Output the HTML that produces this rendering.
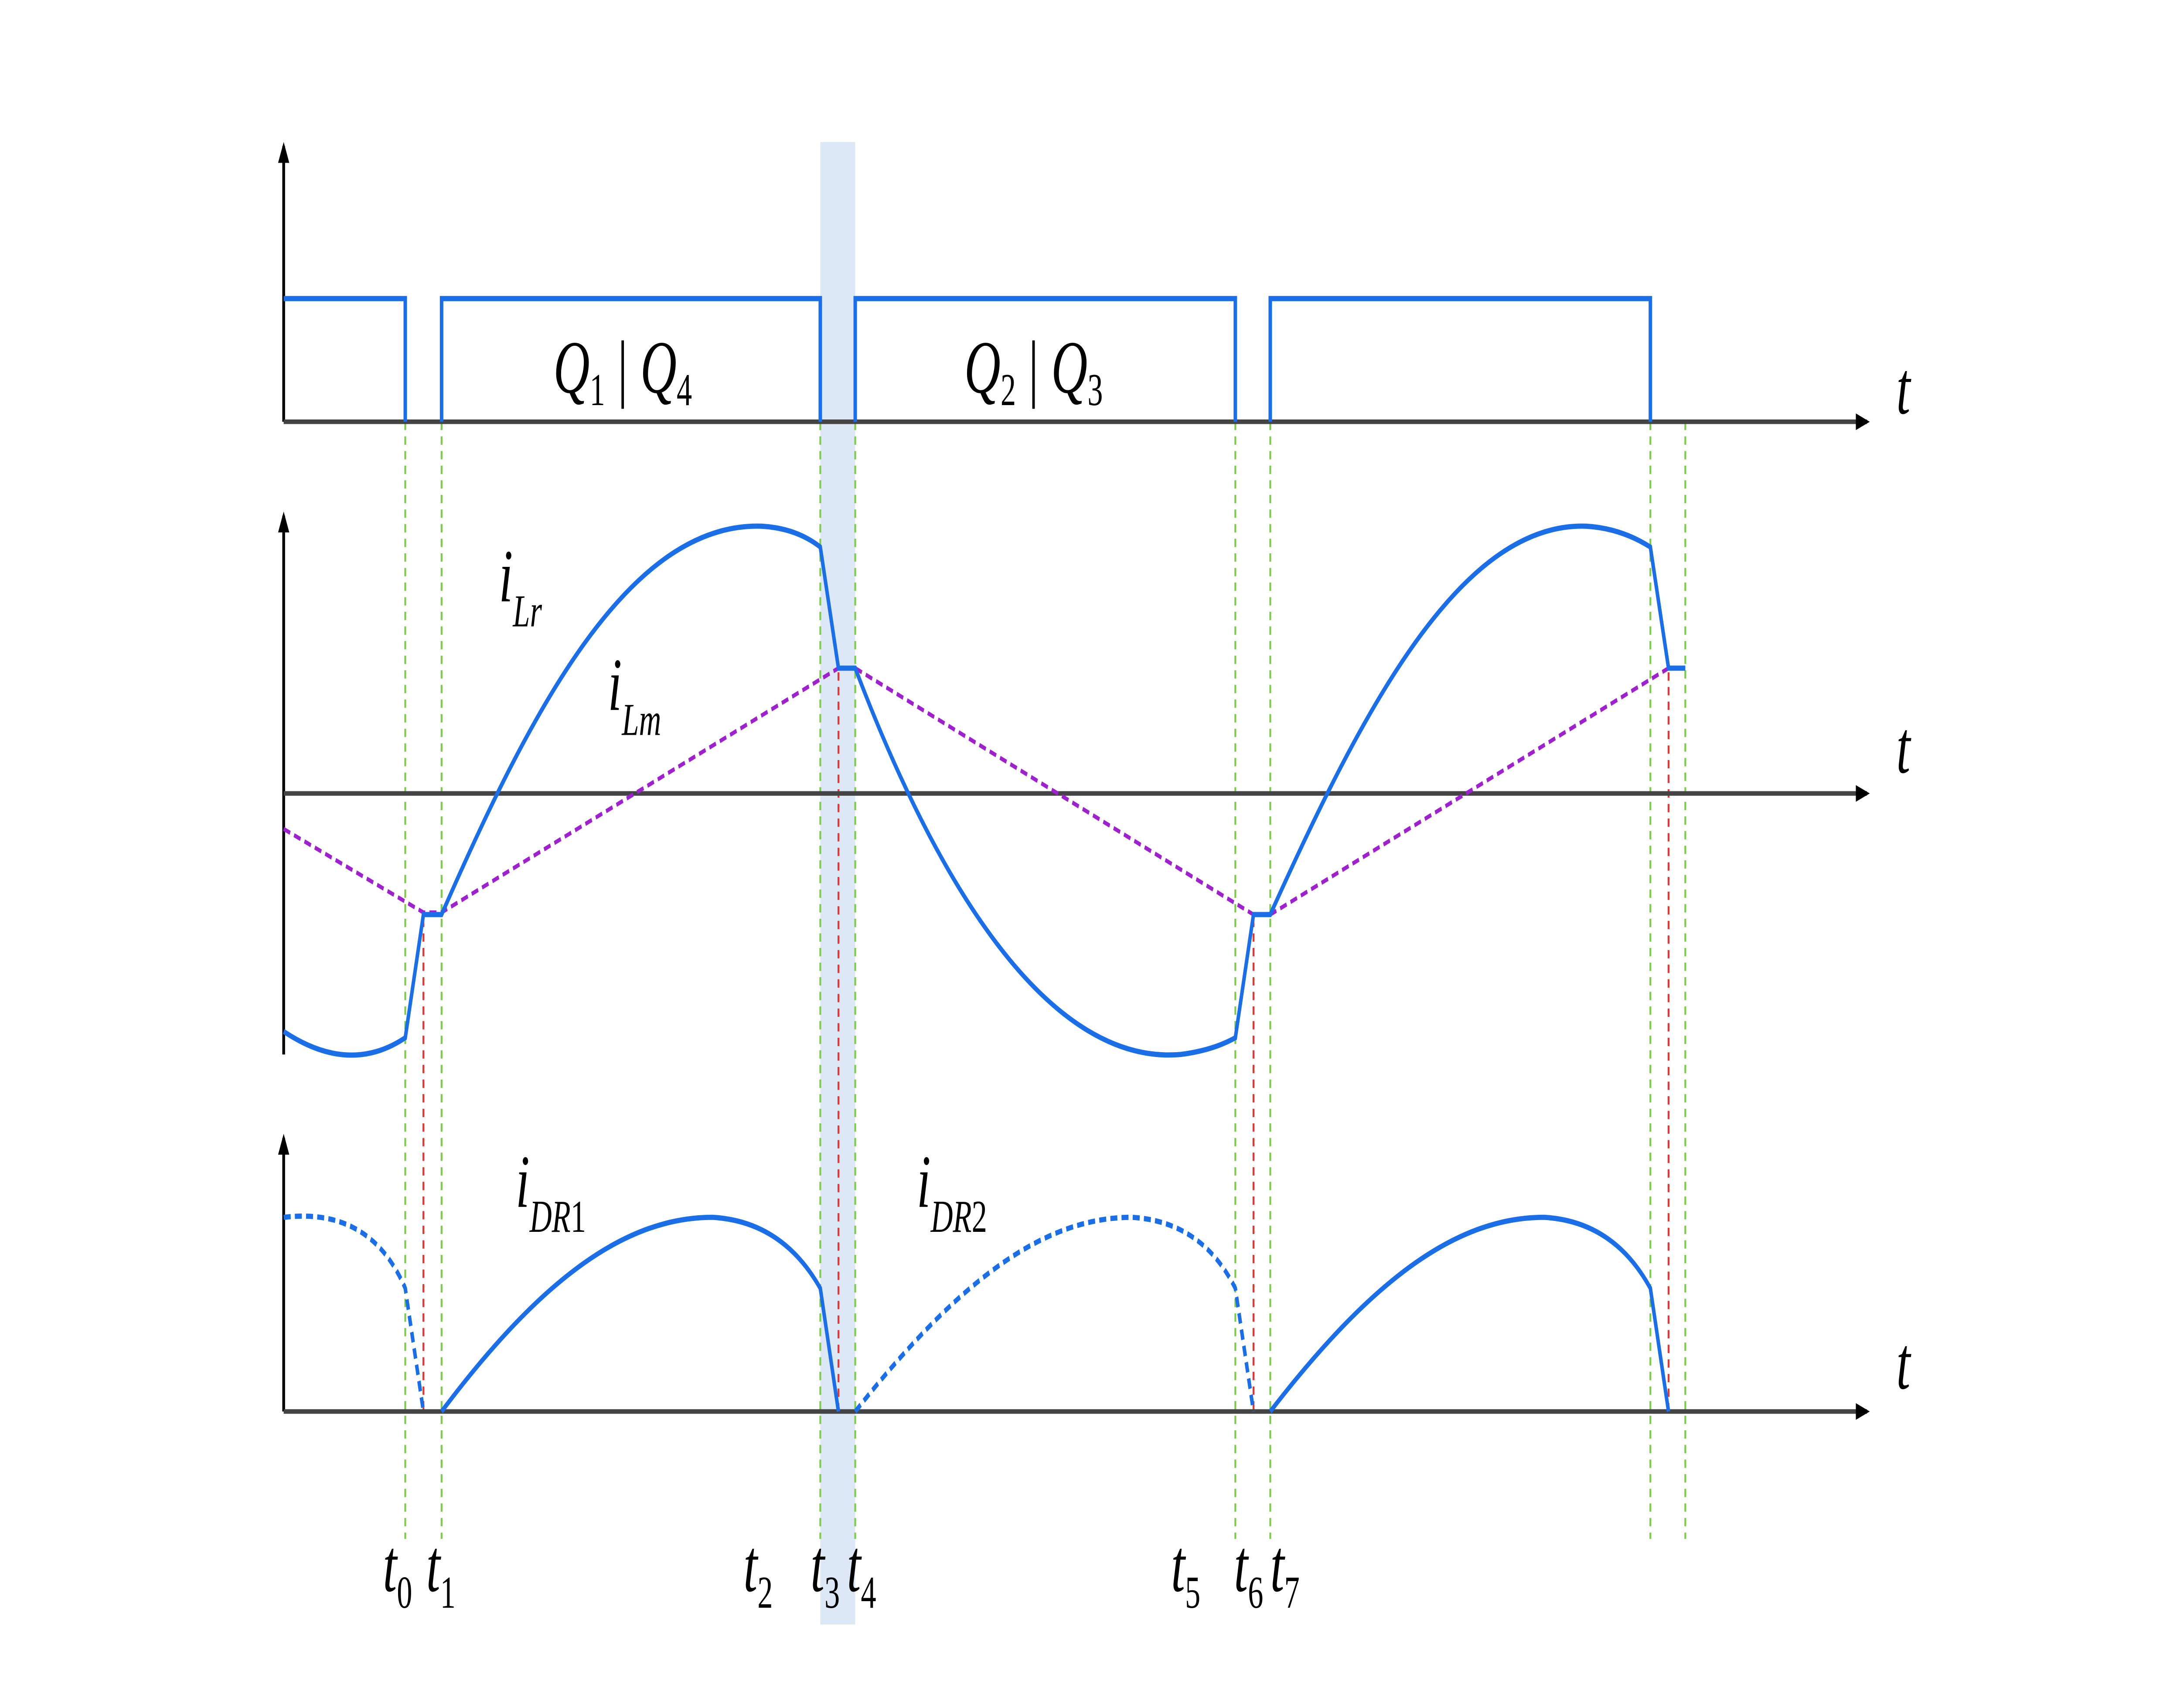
<!DOCTYPE html>
<html><head><meta charset="utf-8"><style>html,body{margin:0;padding:0;background:#fff;width:100%;height:100%;overflow:hidden}svg{display:block;position:absolute;left:0;top:0;width:100vw;height:100vh}text{font-family:"Liberation Serif","Times New Roman",serif}</style></head><body>
<svg viewBox="0 0 1560 818" preserveAspectRatio="none" xmlns="http://www.w3.org/2000/svg" font-style="italic">
<defs><marker id="ar" markerWidth="10" markerHeight="10" refX="8" refY="5" orient="auto" markerUnits="userSpaceOnUse"><path d="M0,1 L10,5 L0,9 Z" fill="#000"/></marker></defs>
<rect x="0" y="0" width="1560" height="818" fill="#fff"/>
<rect x="587" y="68" width="25" height="710" fill="#dce8f5"/>
<g stroke="#7ccc4a" stroke-width="1.3" stroke-dasharray="4,3">
<line x1="290" y1="202" x2="290" y2="737"/><line x1="316" y1="202" x2="316" y2="737"/>
<line x1="587" y1="202" x2="587" y2="737"/><line x1="612" y1="202" x2="612" y2="737"/>
<line x1="884" y1="202" x2="884" y2="737"/><line x1="909" y1="202" x2="909" y2="737"/>
<line x1="1181" y1="202" x2="1181" y2="737"/><line x1="1206" y1="202" x2="1206" y2="737"/>
</g>
<g stroke="#ee3333" stroke-width="1.3" stroke-dasharray="4,3">
<line x1="303" y1="440" x2="303" y2="676"/><line x1="600" y1="322" x2="600" y2="676"/>
<line x1="897" y1="440" x2="897" y2="676"/><line x1="1194" y1="322" x2="1194" y2="676"/>
</g>
<g stroke="#000" stroke-width="2" fill="none">
<line x1="203" y1="202" x2="203" y2="70" marker-end="url(#ar)"/>
<line x1="203" y1="505" x2="203" y2="247" marker-end="url(#ar)"/>
<line x1="203" y1="676" x2="203" y2="545" marker-end="url(#ar)"/>
</g>
<g stroke="#444" stroke-width="2.2" fill="none">
<line x1="203" y1="202" x2="1336" y2="202" marker-end="url(#ar)"/>
<line x1="203" y1="380" x2="1336" y2="380" marker-end="url(#ar)"/>
<line x1="203" y1="676" x2="1336" y2="676" marker-end="url(#ar)"/>
</g>
<path d="M203,143 H290 V202 M316,202 V143 H587 V202 M612,202 V143 H884 V202 M909,202 V143 H1181 V202" stroke="#1a6fe8" stroke-width="2.5" fill="none"/>
<path d="M203,397 L303,437 H316 L600,320 H612 L897,438 H909 L1194,320" stroke="#a020d0" stroke-width="2" stroke-dasharray="5,3" fill="none"/>
<path d="M203,494 Q250,515 290,497 L303,438 H316 C380,340 450,250 545,252 Q570,253 587,262 L600,320 H612 C680,440 760,510 845,505 Q868,503 884,497 L897,438 H909 C975,340 1045,250 1135,252 Q1160,253 1181,262 L1194,320 H1206" stroke="#1a6fe8" stroke-width="2.5" fill="none"/>
<g stroke="#1a6fe8" stroke-width="2.5" fill="none">
<path d="M203,583 Q265,578 290,617 L303,676" stroke-dasharray="5,3"/>
<path d="M316,676 C390,610 450,583 510,583 Q560,585 587,617 L600,676"/>
<path d="M612,676 C690,610 750,583 810,583 Q860,585 884,617 L897,676" stroke-dasharray="5,3"/>
<path d="M909,676 C985,610 1045,583 1105,583 Q1155,585 1181,617 L1194,676"/>
</g>
<g fill="#000" font-size="36">
<text x="396" y="188">Q<tspan font-size="22" font-style="normal" dy="6">1</tspan><tspan font-style="normal" dy="-6"> | </tspan>Q<tspan font-size="22" font-style="normal" dy="6">4</tspan></text>
<text x="690" y="188">Q<tspan font-size="22" font-style="normal" dy="6">2</tspan><tspan font-style="normal" dy="-6"> | </tspan>Q<tspan font-size="22" font-style="normal" dy="6">3</tspan></text>
<text x="1357" y="198">t</text><text x="1357" y="370">t</text><text x="1357" y="665">t</text>
<text x="357" y="288">i<tspan font-size="22" dy="12">Lr</tspan></text>
<text x="435" y="340">i<tspan font-size="22" dy="12">Lm</tspan></text>
<text x="369" y="578">i<tspan font-size="22" dy="12">DR</tspan><tspan font-size="22" font-style="normal">1</tspan></text>
<text x="656" y="578">i<tspan font-size="22" dy="12">DR</tspan><tspan font-size="22" font-style="normal">2</tspan></text>
<text x="274" y="762">t<tspan font-size="22" font-style="normal" dy="8">0</tspan></text>
<text x="305" y="762">t<tspan font-size="22" font-style="normal" dy="8">1</tspan></text>
<text x="532" y="762">t<tspan font-size="22" font-style="normal" dy="8">2</tspan></text>
<text x="580" y="762">t<tspan font-size="22" font-style="normal" dy="8">3</tspan></text>
<text x="606" y="762">t<tspan font-size="22" font-style="normal" dy="8">4</tspan></text>
<text x="838" y="762">t<tspan font-size="22" font-style="normal" dy="8">5</tspan></text>
<text x="883" y="762">t<tspan font-size="22" font-style="normal" dy="8">6</tspan></text>
<text x="909" y="762">t<tspan font-size="22" font-style="normal" dy="8">7</tspan></text>
</g>
</svg>
</body></html>
